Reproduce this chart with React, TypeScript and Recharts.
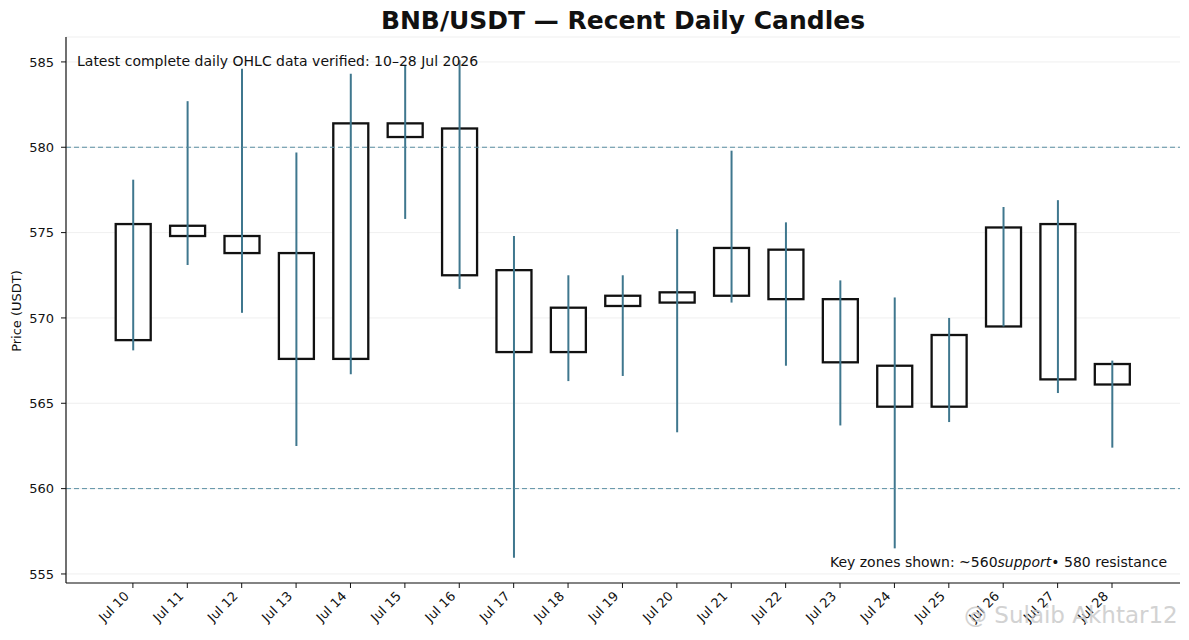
import React from 'react'
import { ComposedChart, Bar, XAxis, YAxis, CartesianGrid, ReferenceLine } from 'recharts'

const days = ['Jul 10', 'Jul 11', 'Jul 12', 'Jul 13', 'Jul 14', 'Jul 15', 'Jul 16', 'Jul 17', 'Jul 18', 'Jul 19',
  'Jul 20', 'Jul 21', 'Jul 22', 'Jul 23', 'Jul 24', 'Jul 25', 'Jul 26', 'Jul 27', 'Jul 28']
const opens = [568.7, 575.4, 574.8, 573.8, 567.6, 581.4, 581.1, 572.8, 568.0, 570.7,
  570.9, 571.3, 574.0, 571.1, 567.2, 564.8, 569.5, 575.5, 566.1]
const highs = [578.1, 582.7, 584.6, 579.7, 584.3, 584.8, 585.1, 574.8, 572.5, 572.5,
  575.2, 579.8, 575.6, 572.2, 571.2, 570.0, 576.5, 576.9, 567.5]
const lows = [568.1, 573.1, 570.3, 562.5, 566.7, 575.8, 571.7, 555.95, 566.3, 566.6,
  563.3, 570.9, 567.2, 563.7, 556.5, 563.9, 569.5, 565.6, 562.4]
const closes = [575.5, 574.8, 573.8, 567.6, 581.4, 580.6, 572.5, 568.0, 570.6, 571.3,
  571.5, 574.1, 571.1, 567.4, 564.8, 569.0, 575.3, 566.4, 567.3]
const priceTicks = [555, 560, 565, 570, 575, 580, 585]
const zoneLevels = [560, 580]

const data = days.map((day, i) => ({
  idx: i, day, open: opens[i], high: highs[i], low: lows[i], close: closes[i],
}))
const dayTicks = days.map((_, i) => i)

const FONT = '"DejaVu Sans", sans-serif'
const WICK = '#3f778e'

// box from open/close, wick high-low, both placed inside the bar's high/low range
function Candle(props: any) {
  const { x, y, width, height, payload } = props
  if (height == null || !payload) return null
  const { high, low, open, close } = payload
  const k = height / (high - low)
  const py = (v: number) => y + (high - v) * k
  const cx = x + width / 2
  const top = py(Math.max(open, close))
  const bot = py(Math.min(open, close))
  return (
    <g>
      <rect x={x} y={top} width={width} height={bot - top} fill="#fff" stroke="#111" strokeWidth={2.3} />
      <line x1={cx} x2={cx} y1={y} y2={y + height} stroke={WICK} strokeWidth={2} />
    </g>
  )
}

function DayTick({ x, y, payload }: any) {
  const px = x - 3
  const py = y + 7
  return (
    <text x={px} y={py} transform={`rotate(-45 ${px} ${py})`} textAnchor="end"
      fontFamily={FONT} fontSize={13} fill="#111">
      {days[payload.value]}
    </text>
  )
}

export default function App() {
  return (
    <div style={{ position: 'absolute', left: 0, top: 0, width: 1189, height: 640, background: '#fff' }}>
      <ComposedChart width={1189} height={640} data={data}
        margin={{ top: 37, right: 9, bottom: 0, left: 0 }}>
        <CartesianGrid vertical={false} stroke="#ebebeb" strokeWidth={0.8} />
        <XAxis dataKey="idx" type="number" domain={[-1.23, 19.25]} ticks={dayTicks}
          allowDataOverflow interval={0} height={57} tickSize={5} tickMargin={2}
          axisLine={{ stroke: '#111', strokeWidth: 1.2 }} tickLine={{ stroke: '#111' }}
          tick={<DayTick />} />
        <YAxis type="number" domain={[554.47, 586.46]} ticks={priceTicks} allowDataOverflow
          width={66} tickSize={5} tickMargin={7}
          axisLine={{ stroke: '#111', strokeWidth: 1.2 }} tickLine={{ stroke: '#111' }}
          tick={{ fontFamily: FONT, fontSize: 13, fill: '#111' }} />
        {zoneLevels.map(v => (
          <ReferenceLine key={v} y={v} stroke="#5a8fa3" strokeWidth={1} strokeDasharray="5 3" />
        ))}
        <Bar dataKey={(d: any) => [d.low, d.high]} barSize={35} shape={<Candle />} isAnimationActive={false} />
      </ComposedChart>
      <svg width={1189} height={640} style={{ position: 'absolute', left: 0, top: 0, pointerEvents: 'none' }}>
        <text x={623} y={29} textAnchor="middle" fontFamily={FONT} fontSize={25} fontWeight="bold" fill="#111">
          BNB/USDT — Recent Daily Candles
        </text>
        <text x={21} y={311} textAnchor="middle" transform="rotate(-90 21 311)" fontFamily={FONT} fontSize={13} fill="#111">
          Price (USDT)
        </text>
        <text x={77} y={66} fontFamily={FONT} fontSize={14} fill="#111">
          Latest complete daily OHLC data verified: 10–28 Jul 2026
        </text>
        <text x={1167} y={567} textAnchor="end" fontFamily={FONT} fontSize={14} fill="#111">
          Key zones shown: ~560<tspan fontStyle="italic">support</tspan>• 580 resistance
        </text>
        <text x={964} y={623} fontFamily={FONT} fontSize={23} fill="#c8c8c8" opacity={0.8}>
          @ Sulaib Akhtar12
        </text>
      </svg>
    </div>
  )
}
